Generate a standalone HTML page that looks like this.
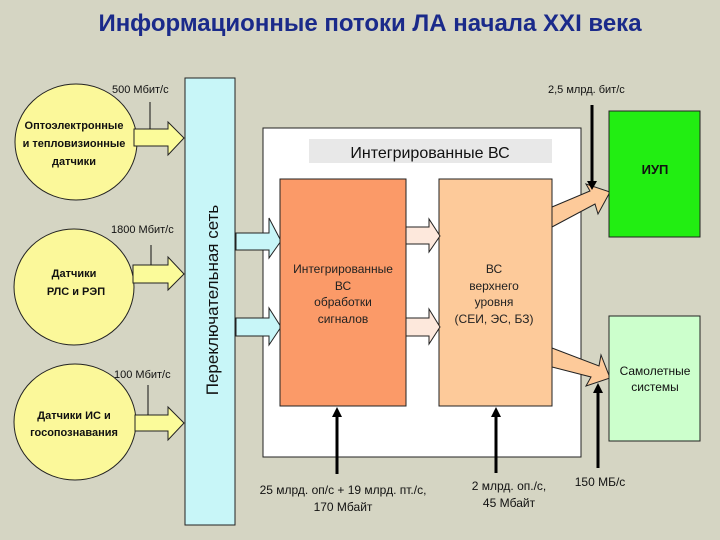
<!DOCTYPE html>
<html><head><meta charset="utf-8"><style>
body{margin:0;background:#d5d5c3;}
svg{display:block;font-family:"Liberation Sans","DejaVu Sans",sans-serif;}
</style></head><body>
<svg width="720" height="540" viewBox="0 0 720 540" xmlns="http://www.w3.org/2000/svg">
<rect width="720" height="540" fill="#d5d5c3"/>
<text x="370" y="31" text-anchor="middle" font-size="24" font-weight="bold" fill="#1a2a8a">Информационные потоки ЛА начала XXI века</text>

<g fill="#fbf89a" stroke="#222" stroke-width="1">
<ellipse cx="76" cy="142" rx="61" ry="58"/>
<ellipse cx="74" cy="287" rx="60" ry="58"/>
<ellipse cx="75" cy="422" rx="61" ry="58"/>
</g>
<g font-size="11" font-weight="bold" text-anchor="middle" fill="#111">
<text x="74" y="129">Оптоэлектронные</text>
<text x="74" y="147">и тепловизионные</text>
<text x="74" y="165">датчики</text>
<text x="74" y="277">Датчики</text>
<text x="76" y="295">РЛС и РЭП</text>
<text x="74" y="419">Датчики ИС и</text>
<text x="74" y="436">госопознавания</text>
</g>
<g fill="#fbfb9a" stroke="#222" stroke-width="1">
<polygon points="134,129 168,129 168,122 184,138 168,155 168,146 134,146"/>
<polygon points="133,265 168,265 168,257 184,274 168,290 168,283 133,283"/>
<polygon points="135,415 168,415 168,407 184,423 168,440 168,431 135,431"/>
</g>
<g stroke="#111" stroke-width="1">
<line x1="150" y1="102" x2="150" y2="129"/>
<line x1="151" y1="245" x2="151" y2="265"/>
<line x1="148" y1="385" x2="148" y2="415"/>
</g>
<g font-size="11" fill="#111">
<text x="112" y="93">500 Мбит/с</text>
<text x="111" y="233">1800 Мбит/с</text>
<text x="114" y="378">100 Мбит/с</text>
<text x="548" y="93">2,5 млрд. бит/с</text>
</g>

<rect x="185" y="78" width="50" height="447" fill="#c8f6f8" stroke="#222"/>
<text transform="translate(218,300) rotate(-90)" text-anchor="middle" font-size="17" fill="#111">Переключательная сеть</text>

<rect x="263" y="128" width="318" height="329" fill="#fff" stroke="#222"/>
<rect x="309" y="139" width="243" height="24" fill="#e8e8e8"/>
<text x="430" y="158" text-anchor="middle" font-size="16" fill="#111">Интегрированные ВС</text>

<g fill="#c8f6f8" stroke="#222">
<polygon points="236,233 269,233 269,218 281,241 269,258 269,250 236,250"/>
<polygon points="236,318 269,318 269,308 281,327 269,345 269,336 236,336"/>
</g>

<rect x="280" y="179" width="126" height="227" fill="#fb9a68" stroke="#222"/>
<rect x="439" y="179" width="113" height="227" fill="#fdca9a" stroke="#222"/>
<g font-size="12" text-anchor="middle" fill="#222">
<text x="343" y="273">Интегрированные</text>
<text x="343" y="290">ВС</text>
<text x="343" y="306">обработки</text>
<text x="343" y="323">сигналов</text>
<text x="494" y="273">ВС</text>
<text x="494" y="290">верхнего</text>
<text x="494" y="306">уровня</text>
<text x="494" y="323">(СЕИ, ЭС, БЗ)</text>
</g>
<g fill="#fde8dc" stroke="#222">
<polygon points="406,227 429,227 429,219 440,236 429,252 429,244 406,244"/>
<polygon points="406,318 429,318 429,309 440,327 429,344 429,336 406,336"/>
</g>
<g fill="#fdca9a" stroke="#222">
<polygon points="552,207 590,191 586,184 610,192 598,214 595,204 552,227"/>
<polygon points="552,348 599,366 601,355 610,378 586,386 591,377 552,367"/>
</g>

<rect x="609" y="111" width="91" height="126" fill="#22ee12" stroke="#222"/>
<text x="655" y="174" text-anchor="middle" font-size="13" font-weight="bold" fill="#111">ИУП</text>
<rect x="609" y="316" width="91" height="125" fill="#ccffcc" stroke="#222"/>
<text x="655" y="375" text-anchor="middle" font-size="12" fill="#111">Самолетные</text>
<text x="655" y="391" text-anchor="middle" font-size="12" fill="#111">системы</text>

<g stroke="#000" stroke-width="3">
<line x1="592" y1="105" x2="592" y2="183"/>
<line x1="598" y1="468" x2="598" y2="392"/>
<line x1="337" y1="474" x2="337" y2="416"/>
<line x1="496" y1="473" x2="496" y2="416"/>
</g>
<g fill="#000">
<polygon points="587,181 597,181 592,190"/>
<polygon points="593,393 603,393 598,383"/>
<polygon points="332,417 342,417 337,407"/>
<polygon points="491,417 501,417 496,407"/>
</g>
<g font-size="12" text-anchor="middle" fill="#111">
<text x="343" y="494">25 млрд. оп/с + 19 млрд. пт./с,</text>
<text x="343" y="511">170 Мбайт</text>
<text x="509" y="490">2 млрд. оп./с,</text>
<text x="509" y="507">45 Мбайт</text>
<text x="600" y="486">150 МБ/с</text>
</g>
</svg>
</body></html>
